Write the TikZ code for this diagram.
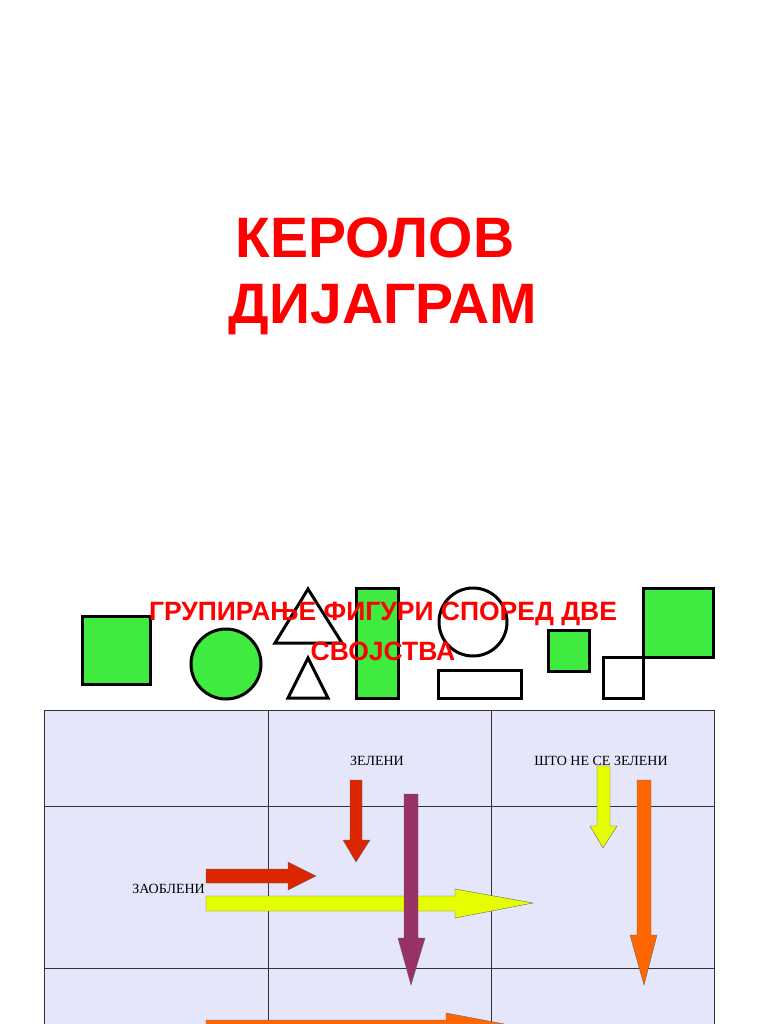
\documentclass[tikz,border=0pt]{standalone}
\usepackage{fontspec}
\setmainfont{Liberation Serif}
\newfontfamily\arialb{Liberation Sans}
\begin{document}
\begin{tikzpicture}[x=1pt,y=-1pt,
 shp/.style={draw=black,line width=3pt},
 arr/.style={draw=black!60,line width=0.4pt},
 lbl/.style={font=\fontsize{14}{16}\selectfont},
 ttl/.style={text=red,font=\arialb\bfseries\fontsize{57}{64}\selectfont},
 sub/.style={text=red,font=\arialb\bfseries\fontsize{26.5}{40}\selectfont,align=center}]
\useasboundingbox (0,0) rectangle (768,1024);
\definecolor{sgreen}{RGB}{64,235,64}
\definecolor{tblue}{RGB}{230,230,250}
\definecolor{ared}{RGB}{220,38,0}
\definecolor{ayel}{RGB}{230,255,0}
\definecolor{apur}{RGB}{150,50,100}
\definecolor{aor}{RGB}{255,102,0}
\node[ttl] (t1) at (375,238) {КЕРОЛОВ};
\node[ttl] (t2) at (383,310) {ДИЈАГРАМ};
% shapes
\draw[shp,fill=sgreen] (82,616) rectangle (150,684);
\draw[shp,fill=sgreen] (226,664) circle (35);
\draw[shp] (308,589) -- (342,643) -- (275,643) -- cycle;
\draw[shp] (308,658) -- (328,698) -- (288,698) -- cycle;
\draw[shp,fill=sgreen] (356,588) rectangle (398,698);
\draw[shp] (473,622) circle (34);
\draw[shp] (438,670) rectangle (521,698);
\draw[shp,fill=sgreen] (548,630) rectangle (589,671);
\draw[shp,fill=sgreen] (643,588) rectangle (713,657);
\draw[shp] (603,657) rectangle (643,698);
\node[sub] (st) at (383,631) {ГРУПИРАЊЕ ФИГУРИ СПОРЕД ДВЕ\\СВОЈСТВА};
% table
\fill[tblue] (44,710) rectangle (714,1024);
\draw[black!80,line width=0.7pt] (44,1024) -- (44,710) -- (714,710) -- (714,1024);
\draw[black!80,line width=0.7pt] (44,806) -- (714,806) (44,968) -- (714,968) (268,710) -- (268,1024) (491,710) -- (491,1024);
\node[lbl] (c1) at (377,761) {ЗЕЛЕНИ};
\node[lbl] (c2) at (601,761) {ШТО НЕ СЕ ЗЕЛЕНИ};
\node[lbl,anchor=east,inner sep=0pt] (r1) at (205,889) {ЗАОБЛЕНИ};
% arrows
\draw[arr,fill=ared] (350,780) -- (362,780) -- (362,840) -- (370,840) -- (356,862) -- (343,840) -- (350,840) -- cycle;
\draw[arr,fill=ayel] (597,766) -- (610,766) -- (610,826) -- (617,826) -- (603,848) -- (590,826) -- (597,826) -- cycle;
\draw[arr,fill=ared] (206,869) -- (288,869) -- (288,862) -- (316,876) -- (288,890) -- (288,883) -- (206,883) -- cycle;
\draw[arr,fill=ayel] (206,896) -- (455,896) -- (455,889) -- (533,903) -- (455,918) -- (455,911) -- (206,911) -- cycle;
\draw[arr,fill=apur] (404,794) -- (418,794) -- (418,938) -- (425,938) -- (411,985) -- (398,938) -- (404,938) -- cycle;
\draw[arr,fill=aor] (637,780) -- (651,780) -- (651,935) -- (657,935) -- (644,985) -- (630,935) -- (637,935) -- cycle;
\begin{scope}
\clip (0,0) rectangle (768,1024);
\draw[arr,fill=aor] (206,1020) -- (446,1020) -- (446,1013) -- (520,1027) -- (446,1042) -- (446,1035) -- (206,1035) -- cycle;
\end{scope}
\end{tikzpicture}
\end{document}
